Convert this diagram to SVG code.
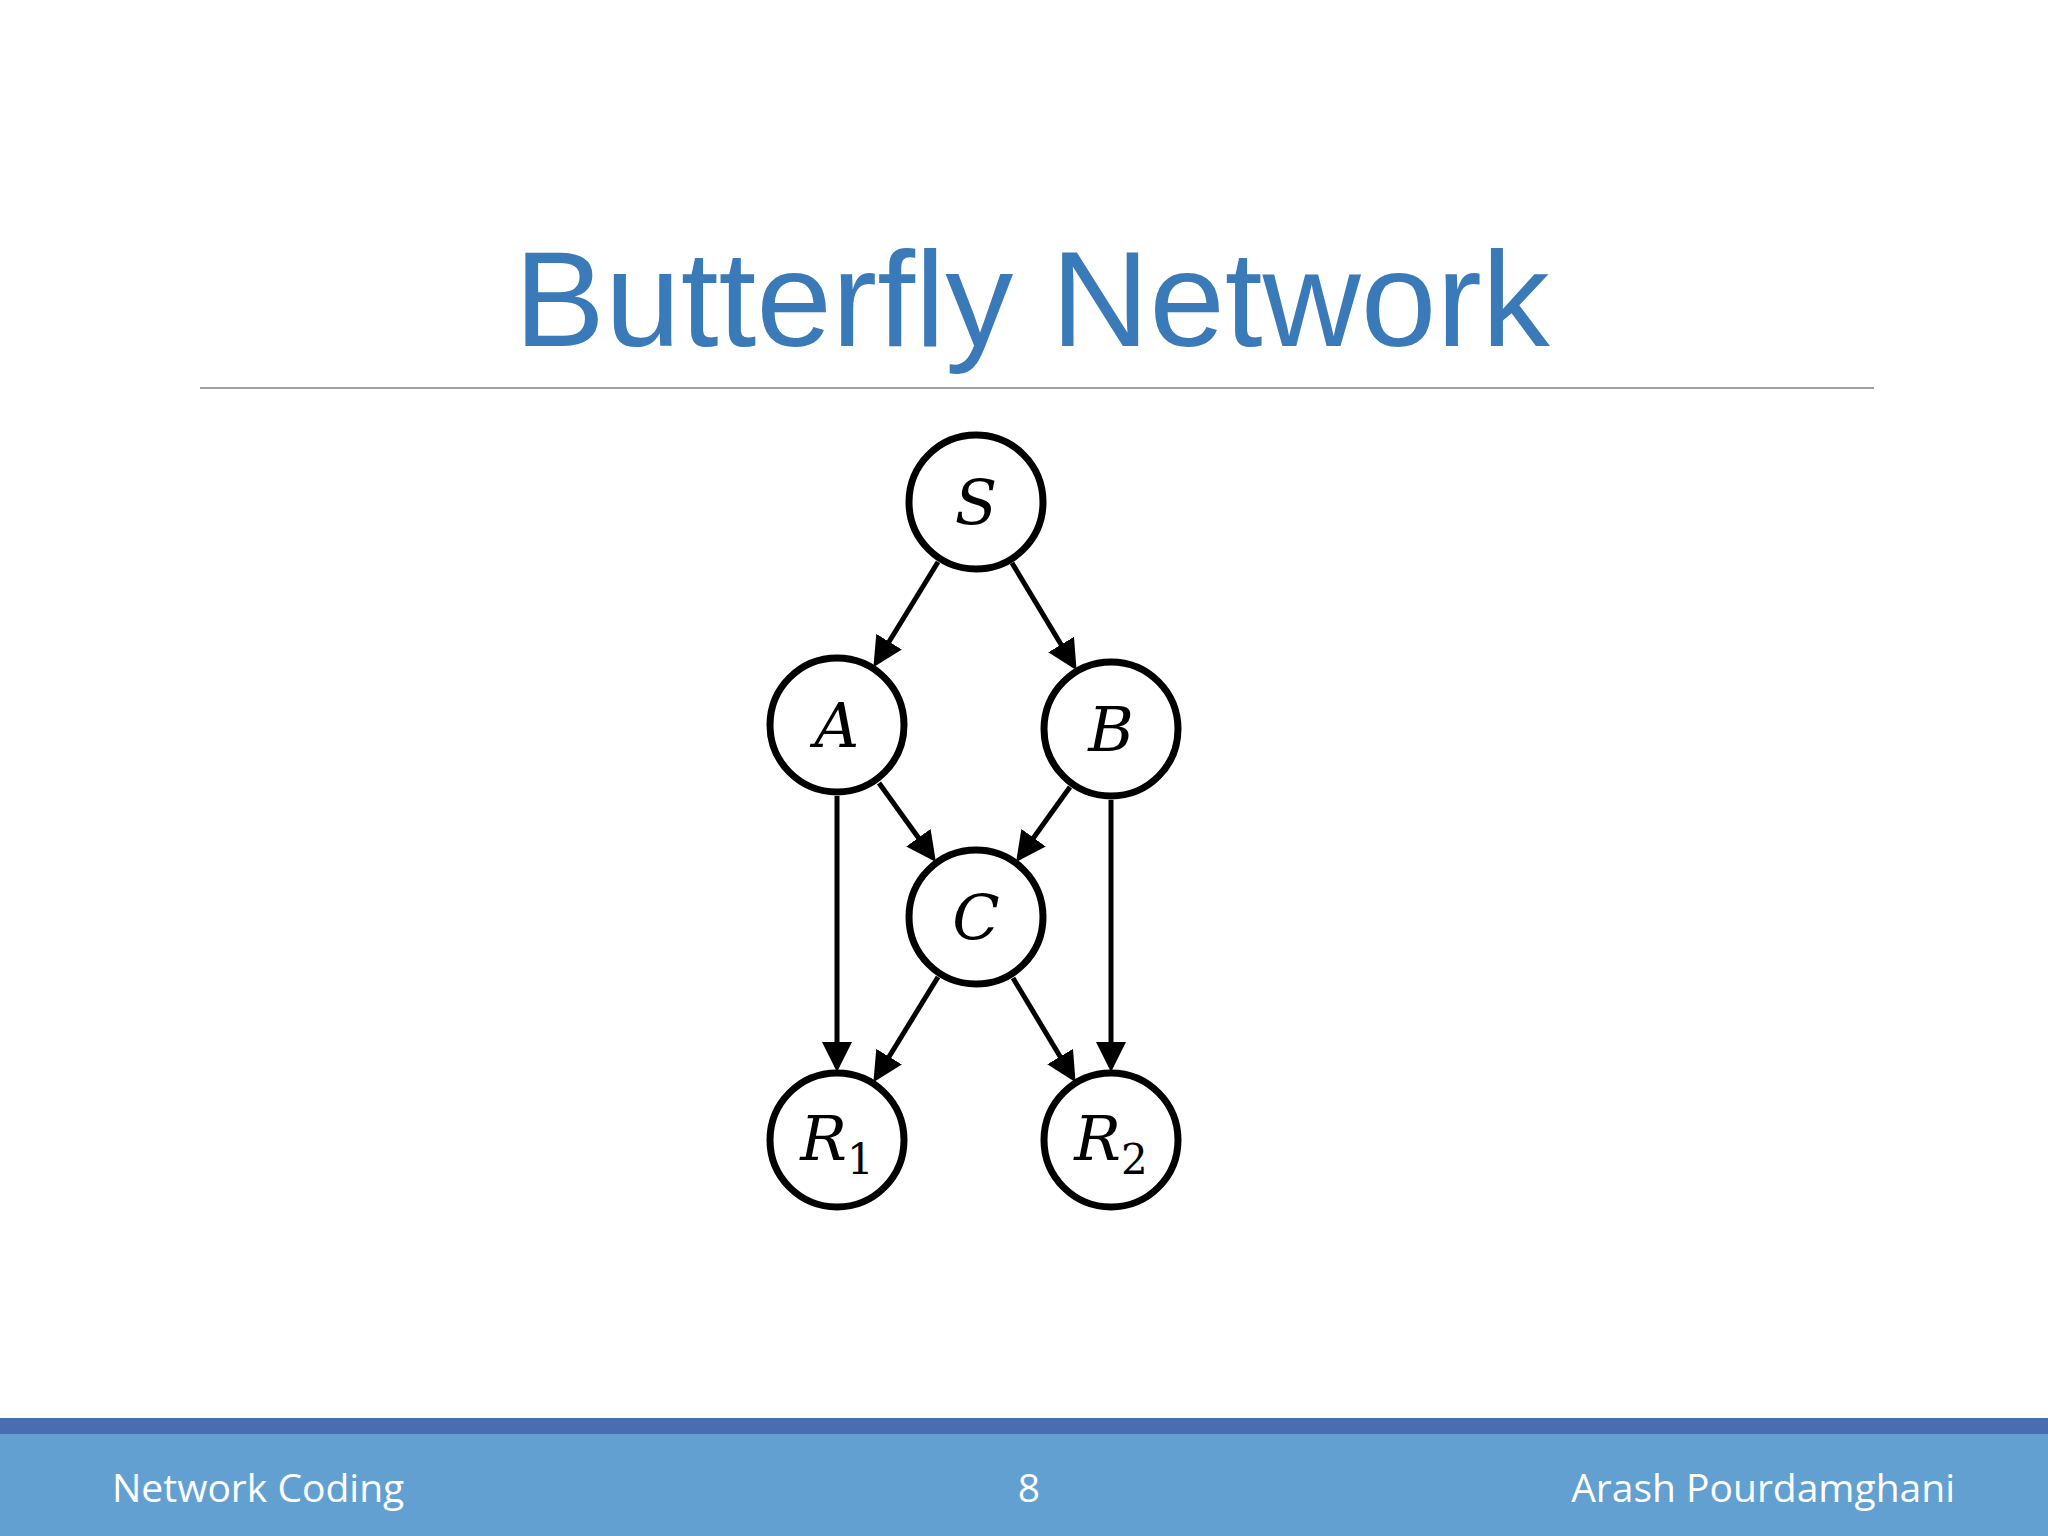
<svg xmlns="http://www.w3.org/2000/svg" width="2048" height="1536" viewBox="0 0 2048 1536">
<style>
.n{fill:#fff;stroke:#000;stroke-width:7}
.l{font-family:"DejaVu Serif",serif;font-style:italic;font-size:62px;text-anchor:middle}
.e{stroke:#000;stroke-width:5;fill:none;marker-end:url(#ah)}
.f{font-family:"Open Sans",sans-serif;font-size:39px;fill:#fff}
</style>
<defs><marker id="ah" markerWidth="6" markerHeight="6" refX="5" refY="3" orient="auto"><path d="M0,0 L6,3 L0,6 Z"/></marker></defs>
<rect width="2048" height="1536" fill="#fff"/>
<text x="1032" y="346" font-family="Liberation Sans,sans-serif" font-size="136" fill="#3a7ab8" text-anchor="middle">Butterfly Network</text>
<line x1="200" y1="388" x2="1874" y2="388" stroke="#a0a0a0" stroke-width="2"/>
<g id="edges">
<line class="e" x1="938" y1="562" x2="876" y2="663"/>
<line class="e" x1="1012" y1="563" x2="1074" y2="666"/>
<line class="e" x1="879" y1="783" x2="933" y2="858"/>
<line class="e" x1="1070" y1="787" x2="1019" y2="858"/>
<line class="e" x1="837" y1="796" x2="837" y2="1067"/>
<line class="e" x1="1111" y1="800" x2="1111" y2="1067"/>
<line class="e" x1="938" y1="977" x2="876" y2="1078"/>
<line class="e" x1="1013" y1="978" x2="1073" y2="1078"/>
</g>
<g id="S"><circle class="n" cx="976" cy="502" r="67"/><text class="l" x="976" y="524">S</text></g>
<g id="A"><circle class="n" cx="837" cy="725" r="67"/><text class="l" x="837" y="747">A</text></g>
<g id="B"><circle class="n" cx="1111" cy="729" r="67"/><text class="l" x="1111" y="751">B</text></g>
<g id="C"><circle class="n" cx="976" cy="917" r="67"/><text class="l" x="976" y="939">C</text></g>
<g id="R1"><circle class="n" cx="837" cy="1140" r="67"/><text class="l" x="837" y="1160">R<tspan font-style="normal" font-size="42" dy="14">1</tspan></text></g>
<g id="R2"><circle class="n" cx="1111" cy="1140" r="67"/><text class="l" x="1111" y="1160">R<tspan font-style="normal" font-size="42" dy="14">2</tspan></text></g>
<rect x="0" y="1418" width="2048" height="16" fill="#4a6cb0"/>
<rect x="0" y="1434" width="2048" height="102" fill="#62a0d2"/>
<text class="f" x="112" y="1502">Network Coding</text>
<text class="f" x="1029" y="1502" text-anchor="middle">8</text>
<text class="f" x="1955" y="1502" text-anchor="end">Arash Pourdamghani</text>
</svg>
